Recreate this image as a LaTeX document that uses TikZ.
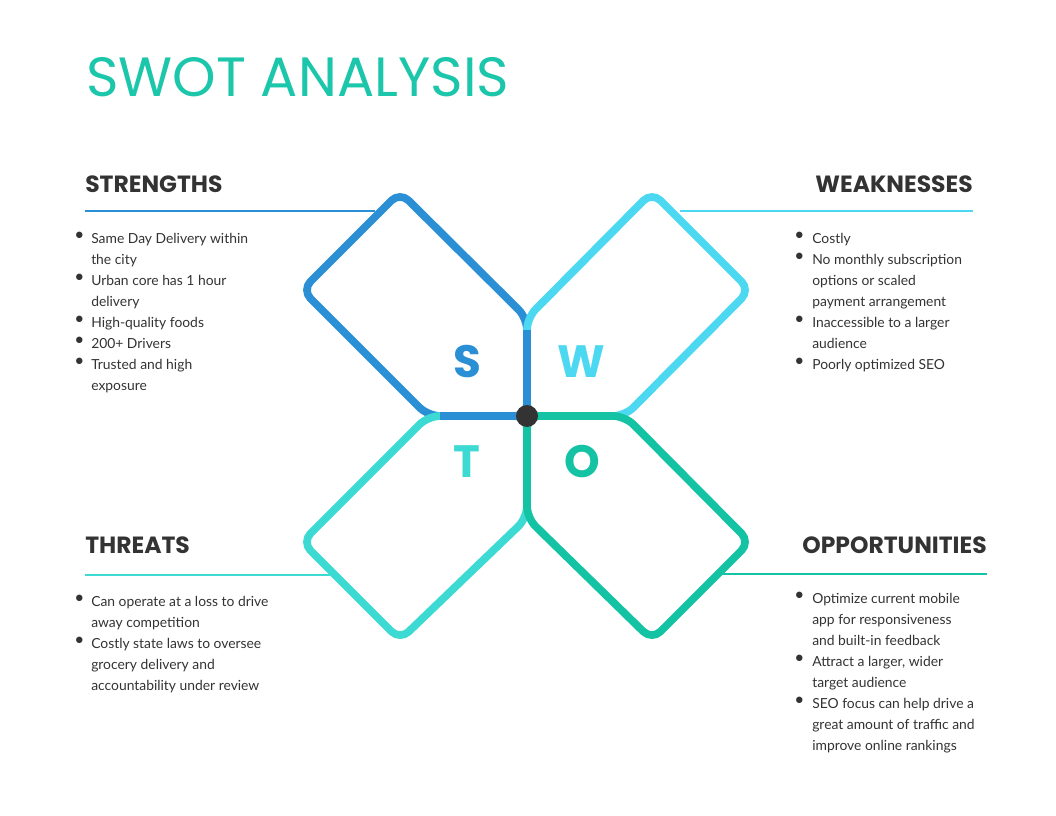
\documentclass[tikz,border=0pt]{standalone}
\usepackage{fontspec}
\setmainfont{Lato}
\newfontfamily\headfont{Poppins}
\definecolor{cS}{HTML}{2B8FD6}
\definecolor{cW}{HTML}{4DD8F2}
\definecolor{cT}{HTML}{3DDAD3}
\definecolor{cO}{HTML}{14C2A4}
\definecolor{ctitle}{HTML}{1CC6AA}
\definecolor{cdark}{HTML}{333333}
\begin{document}
\begin{tikzpicture}[x=0.75pt,y=-0.75pt,
  petal/.style={line width=5.8pt,rounded corners=9pt,line join=round},
  head/.style={font=\headfont\bfseries\fontsize{17.6}{20}\selectfont,text=cdark,inner sep=0pt},
  body/.style={font=\fontsize{10.4}{15.75}\selectfont,text=cdark,inner sep=0pt,align=left,anchor=north west},
  bul/.style={font=\fontsize{13}{15.75}\selectfont,text=cdark,inner sep=0pt,align=left,anchor=north west},
  letter/.style={font=\headfont\bfseries\fontsize{34}{40}\selectfont,inner sep=0pt},
  rule/.style={line width=1.8pt}]
\useasboundingbox (0,0) rectangle (1056,816);
\node[anchor=west,inner sep=0pt,text=ctitle,font=\headfont\fontsize{41.5}{46}\selectfont] (title) at (86,77) {SWOT ANALYSIS};
% rules
\draw[rule,cS] (85,211) -- (375,211);
\draw[rule,cW] (680,211) -- (973,211);
\draw[rule,cT] (85,575) -- (330,575);
\draw[rule,cO] (722,574) -- (987,574);
% petals
\coordinate (c) at (527,416);
\draw[petal,cS] (c) -- (527,318) -- (400,192) -- (302,290) -- (428,416) -- cycle;
\draw[petal,cW] (c) -- (527,318) -- (652,192) -- (750,290) -- (625,416) -- cycle;
\draw[petal,cT] (c) -- (527,518) -- (400,640) -- (302,542) -- (428,416) -- cycle;
\draw[petal,cO] (c) -- (527,518) -- (652,640) -- (750,542) -- (625,416) -- cycle;
\draw[petal,cS,rounded corners=0pt] (527,416) -- (527,330);
\draw[petal,cS,rounded corners=0pt] (527,416) -- (440,416);
\fill[cdark] (c) circle (11);
\node[letter,text=cS] (S) at (467,362) {S};
\node[letter,text=cW] (W) at (581,362) {W};
\node[letter,text=cT] (T) at (467,462) {T};
\node[letter,text=cO] (O) at (582,462) {O};
% headings
\node[head,anchor=west] (hs) at (85,184) {STRENGTHS};
\node[head,anchor=east] (hw) at (973,184) {WEAKNESSES};
\node[head,anchor=west] (ht) at (85,545) {THREATS};
\node[head,anchor=east] (ho) at (987,545) {OPPORTUNITIES};
% lists
\node[bul] (sb) at (74,232) {•\\ \\•\\ \\•\\•\\•};
\node[body] (st) at (91,233) {Same Day Delivery within\\the city\\Urban core has 1 hour\\delivery\\High-quality foods\\200+ Drivers\\Trusted and high\\exposure};
\node[bul] (wb) at (794,232) {•\\•\\ \\ \\•\\ \\•};
\node[body] (wt) at (812,233) {Costly\\No monthly subscription\\options or scaled\\payment arrangement\\Inaccessible to a larger\\audience\\Poorly optimized SEO};
\node[bul] (tb) at (74,595) {•\\ \\•};
\node[body] (tt) at (91,596) {Can operate at a loss to drive\\away competition\\Costly state laws to oversee\\grocery delivery and\\accountability under review};
\node[bul] (ob) at (794,592) {•\\ \\ \\•\\ \\•};
\node[body] (ot) at (812,593) {Optimize current mobile\\app for responsiveness\\and built-in feedback\\Attract a larger, wider\\target audience\\SEO focus can help drive a\\great amount of traffic and\\improve online rankings};
\end{tikzpicture}
\end{document}
